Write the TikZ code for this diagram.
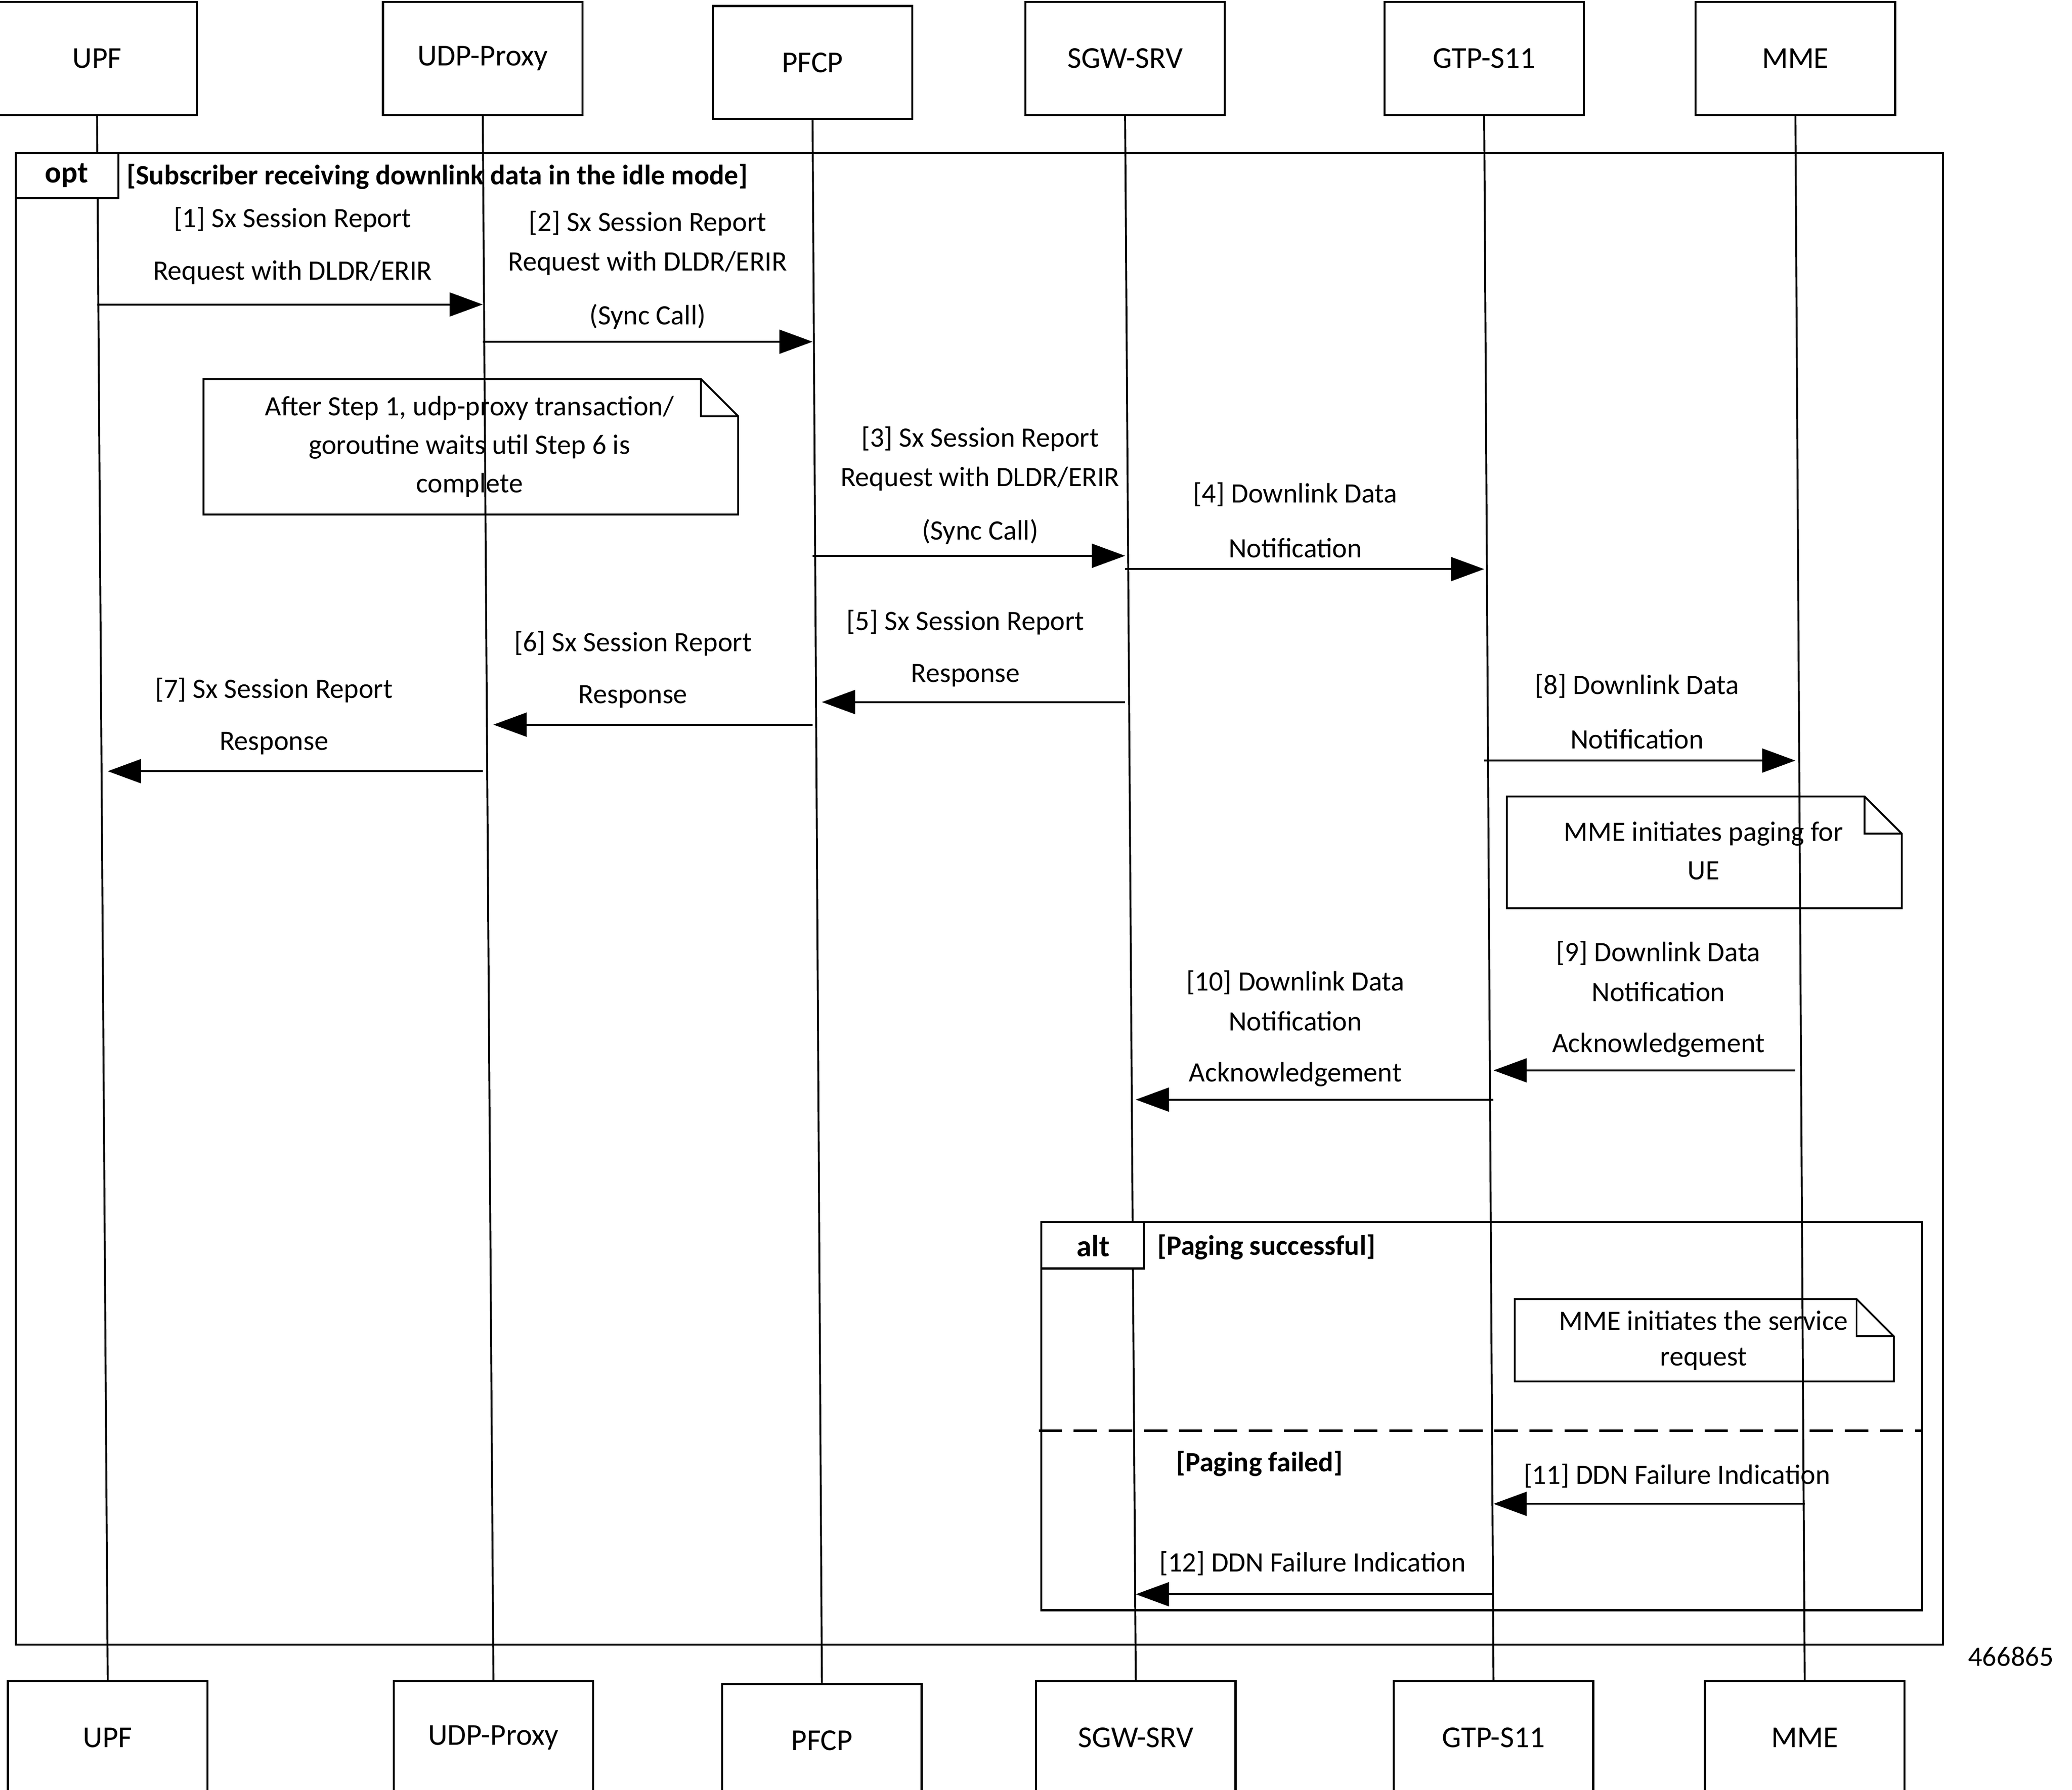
\documentclass[tikz,border=0pt]{standalone}
\usepackage{fontspec}
\setmainfont{Carlito}
\usetikzlibrary{arrows.meta}
\usetikzlibrary{calc}

\tikzset{
  actor/.style={draw, line width=0.9pt, minimum width=3cm, minimum height=1.7cm, font=\fontsize{13}{15}\selectfont},
  life/.style={line width=0.8pt},
  msg/.style={line width=0.8pt, -{Triangle[length=0.5cm,width=0.36cm]}},
  lbl/.style={font=\fontsize{12}{14}\selectfont, inner sep=0pt},
  frame/.style={line width=0.9pt},
  guard/.style={font=\bfseries\fontsize{12}{14}\selectfont, inner sep=0pt, anchor=west},
}
\newcommand{\notebox}[5]{% x1,y1,x2,y2,name
  \draw[line width=0.8pt] (#1,#2) -- ({#3-28},#2) -- (#3,{#2+28}) -- (#3,#4) -- (#1,#4) -- cycle;
  \draw[line width=0.8pt] ({#3-28},#2) -- ({#3-28},{#2+28}) -- (#3,{#2+28});
  \coordinate (#5) at ({(#1+#3)/2},{(#2+#4)/2});
}

\begin{document}
\begin{tikzpicture}[x=0.02cm,y=-0.02cm]
  \useasboundingbox (0,0) rectangle (1558,1346);

  % top and bottom actors
  \node[actor] (upfT) at (73,44) {UPF};
  \node[actor] (udpT) at (363,44) {UDP-Proxy};
  \node[actor] (pfcpT) at (611,47) {PFCP};
  \node[actor] (sgwT) at (846,44) {SGW-SRV};
  \node[actor] (gtpT) at (1116,44) {GTP-S11};
  \node[actor] (mmeT) at (1350,44) {MME};
  \node[actor] (upfB) at (81,1307) {UPF};
  \node[actor] (udpB) at (371,1307) {UDP-Proxy};
  \node[actor] (pfcpB) at (618,1309) {PFCP};
  \node[actor] (sgwB) at (854,1307) {SGW-SRV};
  \node[actor] (gtpB) at (1123,1307) {GTP-S11};
  \node[actor] (mmeB) at (1357,1307) {MME};

  % lifelines
  \foreach \a in {upf,udp,pfcp,sgw,gtp,mme}
    \draw[life] (\a T.south) -- (\a B.north);

  % opt frame
  \draw[frame] (12,115) rectangle (1461,1237);
  \draw[frame, fill=white] (12,115) rectangle (89,149);
  \node[font=\bfseries\fontsize{13}{15}\selectfont] (optTag) at (50,132) {opt};
  \node[guard] (optG) at (95,133) {[Subscriber receiving downlink data in the idle mode]};

  % messages
  \draw[msg] (upfT |- 0,229) -- (udpT |- 0,229);
  \node[lbl] (m1a) at (220,165) {[1] Sx Session Report};
  \node[lbl] (m1b) at (220,205) {Request with DLDR/ERIR};

  \draw[msg] (udpT |- 0,257) -- (pfcpT |- 0,257);
  \node[lbl] (m2a) at (487,168) {[2] Sx Session Report};
  \node[lbl] (m2b) at (487,198) {Request with DLDR/ERIR};
  \node[lbl] (m2c) at (487,238) {(Sync Call)};

  \notebox{153}{285}{555}{387}{n1}
  \node[lbl] (n1a) at (353,307) {After Step 1, udp-proxy transaction/};
  \node[lbl] (n1b) at (353,336) {goroutine waits util Step 6 is};
  \node[lbl] (n1c) at (353,365) {complete};

  \draw[msg] (pfcpT |- 0,418) -- (sgwT |- 0,418);
  \node[lbl] (m3a) at (737,330) {[3] Sx Session Report};
  \node[lbl] (m3b) at (737,360) {Request with DLDR/ERIR};
  \node[lbl] (m3c) at (737,400) {(Sync Call)};

  \draw[msg] (sgwT |- 0,428) -- (gtpT |- 0,428);
  \node[lbl] (m4a) at (974,372) {[4] Downlink Data};
  \node[lbl] (m4b) at (974,412) {Notification};

  \draw[msg] (sgwT |- 0,528) -- (pfcpB |- 0,528);
  \node[lbl] (m5a) at (726,468) {[5] Sx Session Report};
  \node[lbl] (m5b) at (726,508) {Response};

  \draw[msg] (pfcpT |- 0,545) -- (udpB |- 0,545);
  \node[lbl] (m6a) at (476,484) {[6] Sx Session Report};
  \node[lbl] (m6b) at (476,524) {Response};

  \draw[msg] (udpT |- 0,580) -- (upfB |- 0,580);
  \node[lbl] (m7a) at (206,519) {[7] Sx Session Report};
  \node[lbl] (m7b) at (206,559) {Response};

  \draw[msg] (gtpT |- 0,572) -- (mmeT |- 0,572);
  \node[lbl] (m8a) at (1231,516) {[8] Downlink Data};
  \node[lbl] (m8b) at (1231,556) {Notification};

  \notebox{1133}{599}{1430}{683}{n2}
  \node[lbl] (n2a) at (1281,627) {MME initiates paging for};
  \node[lbl] (n2b) at (1281,655) {UE};

  \draw[msg] (mmeT |- 0,805) -- (gtpB |- 0,805);
  \node[lbl] (m9a) at (1247,717) {[9] Downlink Data};
  \node[lbl] (m9b) at (1247,746) {Notification};
  \node[lbl] (m9c) at (1247,786) {Acknowledgement};

  \draw[msg] (gtpB |- 0,827) -- (sgwB |- 0,827);
  \node[lbl] (m10a) at (974,739) {[10] Downlink Data};
  \node[lbl] (m10b) at (974,768) {Notification};
  \node[lbl] (m10c) at (974,808) {Acknowledgement};

  % alt frame
  \draw[frame] (783,919) rectangle (1445,1211);
  \draw[frame, fill=white] (783,919) rectangle (860,954);
  \node[font=\bfseries\fontsize{13}{15}\selectfont] (altTag) at (822,937) {alt};
  \node[guard] (altG) at (870,938) {[Paging successful]};

  \notebox{1139}{977}{1424}{1039}{n3}
  \node[lbl] (n3a) at (1281,993) {MME initiates the service};
  \node[lbl] (n3b) at (1281,1022) {request};

  \draw[frame, dash pattern=on 10pt off 5pt] (781,1076) -- (1445,1076);
  \node[guard, anchor=center] (failG) at (947,1101) {[Paging failed]};

  \draw[msg] (mmeB |- 0,1131) -- (gtpB |- 0,1131);
  \node[lbl] (m11) at (1261,1110) {[11] DDN Failure Indication};

  \draw[msg] (gtpB |- 0,1199) -- (sgwB |- 0,1199);
  \node[lbl] (m12) at (987,1176) {[12] DDN Failure Indication};

  \node[lbl] (fig) at (1512,1246) {466865};
\end{tikzpicture}
\end{document}
